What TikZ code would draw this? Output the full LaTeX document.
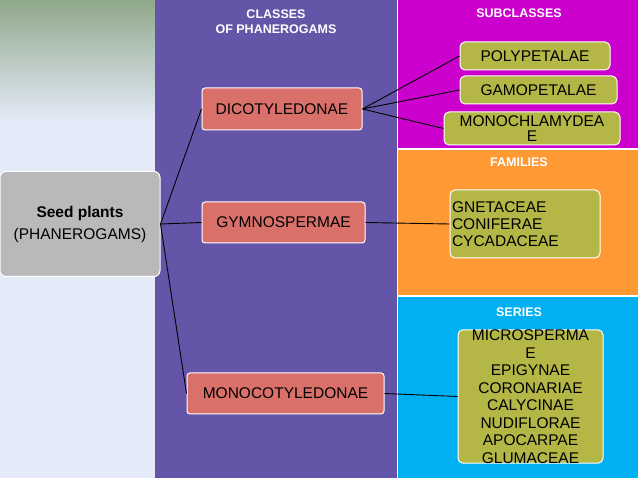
\documentclass[tikz,border=0pt]{standalone}
\usepackage{fontspec}
\setmainfont{Liberation Sans}
\begin{document}
\begin{tikzpicture}[x=1pt,y=-1pt,
 red/.style={draw=white,line width=1pt,fill=salmon,rounded corners=3pt,inner sep=0pt,font=\fontsize{15.5}{16}\selectfont,text=black},
 olive/.style={draw=white,line width=1pt,fill=olivec,rounded corners=5pt,inner sep=0pt,font=\fontsize{15.5}{16}\selectfont,text=black},
 hdr/.style={font=\bfseries\fontsize{12.5}{15}\selectfont,align=center,text=white},
 con/.style={black,line width=0.9pt}]
\definecolor{salmon}{HTML}{D9706A}
\definecolor{olivec}{HTML}{B4B646}
\definecolor{purp}{HTML}{6555A8}
\definecolor{mag}{HTML}{CC00CC}
\definecolor{orng}{HTML}{FF9933}
\definecolor{skyb}{HTML}{00B0F0}
\definecolor{topg}{HTML}{8FA88A}
\definecolor{pale}{HTML}{E4EAF8}
\useasboundingbox (0,0) rectangle (638,478);
\fill[pale] (0,0) rectangle (155,478);
\shade[top color=topg, bottom color=pale] (0,0) rectangle (155,120);
\fill[purp] (155,0) rectangle (397,478);
\fill[mag] (398,0) rectangle (638,148);
\fill[orng] (398,150) rectangle (638,295);
\fill[skyb] (398,297) rectangle (638,478);
\node[hdr] (hc) at (276,22) {CLASSES\\OF PHANEROGAMS};
\node[hdr] (hs) at (519,13) {SUBCLASSES};
\node[hdr] (hf) at (519,162) {FAMILIES};
\node[hdr] (hse) at (519,312) {SERIES};
\node[draw=white,line width=1pt,fill=gray!55,rounded corners=6pt,minimum width=160pt,minimum height=105pt,align=center,font=\fontsize{15.5}{22}\selectfont] (seed) at (80,224) {\textbf{Seed plants}\\(PHANEROGAMS)};
\node[red,minimum width=160pt,minimum height=42pt] (dic) at (282,109) {DICOTYLEDONAE};
\node[red,minimum width=163pt,minimum height=41pt] (gym) at (283.5,222.5) {GYMNOSPERMAE};
\node[red,minimum width=197pt,minimum height=41pt] (mon) at (285.5,393.5) {MONOCOTYLEDONAE};
\node[olive,minimum width=150pt,minimum height=28pt] (pol) at (535,56) {POLYPETALAE};
\node[olive,minimum width=157pt,minimum height=28pt] (gam) at (538.5,90) {GAMOPETALAE};
\node[olive,minimum width=176pt,minimum height=33pt,align=center,font=\fontsize{15.5}{15}\selectfont] (mch) at (532,128.5) {MONOCHLAMYDEA\\E};
\node[olive,minimum width=150pt,minimum height=68pt,align=left,text width=146pt,font=\fontsize{15.5}{17}\selectfont] (gne) at (525,224) {GNETACEAE\\CONIFERAE\\CYCADACEAE};
\node[olive,minimum width=145pt,minimum height=133pt,align=center,font=\fontsize{15.5}{17.5}\selectfont] (ser) at (530.5,396.5) {MICROSPERMA\\E\\EPIGYNAE\\CORONARIAE\\CALYCINAE\\NUDIFLORAE\\APOCARPAE\\GLUMACEAE};
\draw[con] (seed.east) -- (dic.west);
\draw[con] (seed.east) -- (gym.west);
\draw[con] (seed.east) -- (mon.west);
\draw[con] (dic.east) -- (pol.west);
\draw[con] (dic.east) -- (gam.west);
\draw[con] (dic.east) -- (mch.west);
\draw[con] (gym.east) -- (gne.west);
\draw[con] (mon.east) -- (ser.west);
\end{tikzpicture}
\end{document}
